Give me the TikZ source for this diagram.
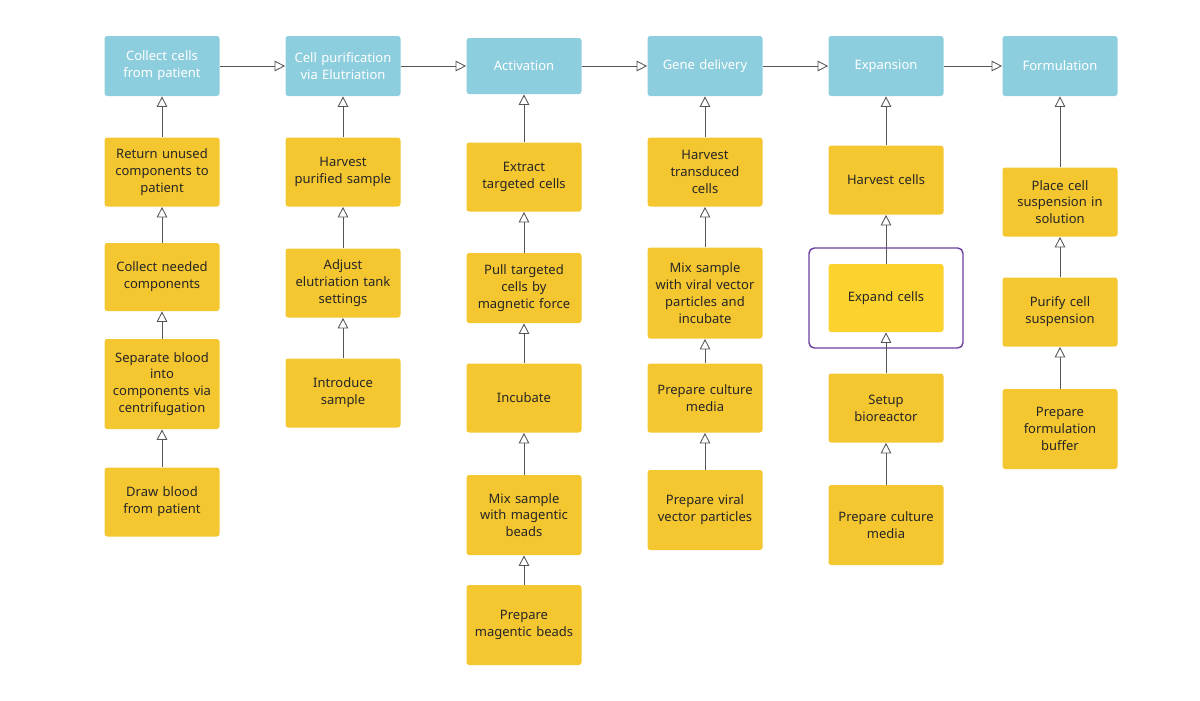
\documentclass[tikz,border=0pt]{standalone}
\usepackage{fontspec}
\setmainfont{Noto Sans}
\usetikzlibrary{arrows.meta}
\definecolor{bl}{HTML}{8DCEDE}
\definecolor{yl}{HTML}{F4C630}
\definecolor{yb}{HTML}{FCD22E}
\definecolor{pu}{HTML}{6A3FA0}
\definecolor{ar}{HTML}{555555}
\begin{document}
\begin{tikzpicture}[x=0.02cm,y=-0.02cm,
 box/.style={rectangle,rounded corners=1.5pt,minimum width=115*0.02cm,align=center,text width=100*0.02cm,font=\fontsize{7.4}{9.6}\selectfont,inner sep=0pt},
 blue/.style={box,fill=bl,text=white,minimum height=60*0.02cm},
 yel/.style={box,fill=yl,text=black!85},
 h/.style={minimum height=#1*0.02cm},
 arr/.style={draw=ar,line width=0.5pt,-{Triangle[open,length=6pt,width=6pt]}}]
\useasboundingbox (0,0) rectangle (1200,700);
% blue
\node[blue] (b1) at (162,66) {Collect cells\\from patient};
\node[blue] (b2) at (343,66) {Cell purification\\via Elutriation};
\node[blue,minimum height=56*0.02cm] (b3) at (524,66) {Activation};
\node[blue] (b4) at (705,66) {Gene delivery};
\node[blue] (b5) at (886,66) {Expansion};
\node[blue] (b6) at (1060,66) {Formulation};
\foreach \a/\b in {b1/b2,b2/b3,b3/b4,b4/b5,b5/b6} \draw[arr] (\a) -- (\b);
% col1
\node[yel,h=69] (a1) at (162,172) {Return unused\\components to\\patient};
\node[yel,h=68] (a2) at (162,277) {Collect needed\\components};
\node[yel,h=90] (a3) at (162,384) {Separate blood\\into\\components via\\centrifugation};
\node[yel,h=69] (a4) at (162,502) {Draw blood\\from patient};
\draw[arr] (a4)--(a3); \draw[arr] (a3)--(a2); \draw[arr] (a2)--(a1); \draw[arr] (a1)--(b1);
% col2
\node[yel,h=69] (c1) at (343,172) {Harvest\\purified sample};
\node[yel,h=69] (c2) at (343,283) {Adjust\\elutriation tank\\settings};
\node[yel,h=69] (c3) at (343,393) {Introduce\\sample};
\draw[arr] (c3)--(c2); \draw[arr] (c2)--(c1); \draw[arr] (c1)--(b2);
% col3
\node[yel,h=69] (d1) at (524,177) {Extract\\targeted cells};
\node[yel,h=70] (d2) at (524,288) {Pull targeted\\cells by\\magnetic force};
\node[yel,h=69] (d3) at (524,398) {Incubate};
\node[yel,h=80] (d4) at (524,515) {Mix sample\\with magentic\\beads};
\node[yel,h=80] (d5) at (524,625) {Prepare\\magentic beads};
\draw[arr] (d5)--(d4); \draw[arr] (d4)--(d3); \draw[arr] (d3)--(d2); \draw[arr] (d2)--(d1); \draw[arr] (d1)--(b3);
% col4
\node[yel,h=69] (e1) at (705,172) {Harvest\\transduced\\cells};
\node[yel,h=91] (e2) at (705,293) {Mix sample\\with viral vector\\particles and\\incubate};
\node[yel,h=69] (e3) at (705,398) {Prepare culture\\media};
\node[yel,h=80] (e4) at (705,510) {Prepare viral\\vector particles};
\draw[arr] (e4)--(e3); \draw[arr] (e3)--(e2); \draw[arr] (e2)--(e1); \draw[arr] (e1)--(b4);
% col5
\node[yel,h=69] (f1) at (886,180) {Harvest cells};
\node[yel,h=68,fill=yb] (f2) at (886,298) {Expand cells};
\node[draw=pu,line width=0.8pt,rounded corners=3pt,minimum width=154*0.02cm,minimum height=100*0.02cm,inner sep=0pt] (fr) at (886,298) {};
\node[yel,h=69] (f3) at (886,408) {Setup\\bioreactor};
\node[yel,h=80] (f4) at (886,525) {Prepare culture\\media};
\draw[arr] (f4)--(f3); \draw[arr] (f3)--(f2); \draw[arr] (f2)--(f1); \draw[arr] (f1)--(b5);
% col6
\node[yel,h=69] (g1) at (1060,202) {Place cell\\suspension in\\solution};
\node[yel,h=69] (g2) at (1060,312) {Purify cell\\suspension};
\node[yel,h=80] (g3) at (1060,429) {Prepare\\formulation\\buffer};
\draw[arr] (g3)--(g2); \draw[arr] (g2)--(g1); \draw[arr] (g1)--(b6);
\end{tikzpicture}
\end{document}
